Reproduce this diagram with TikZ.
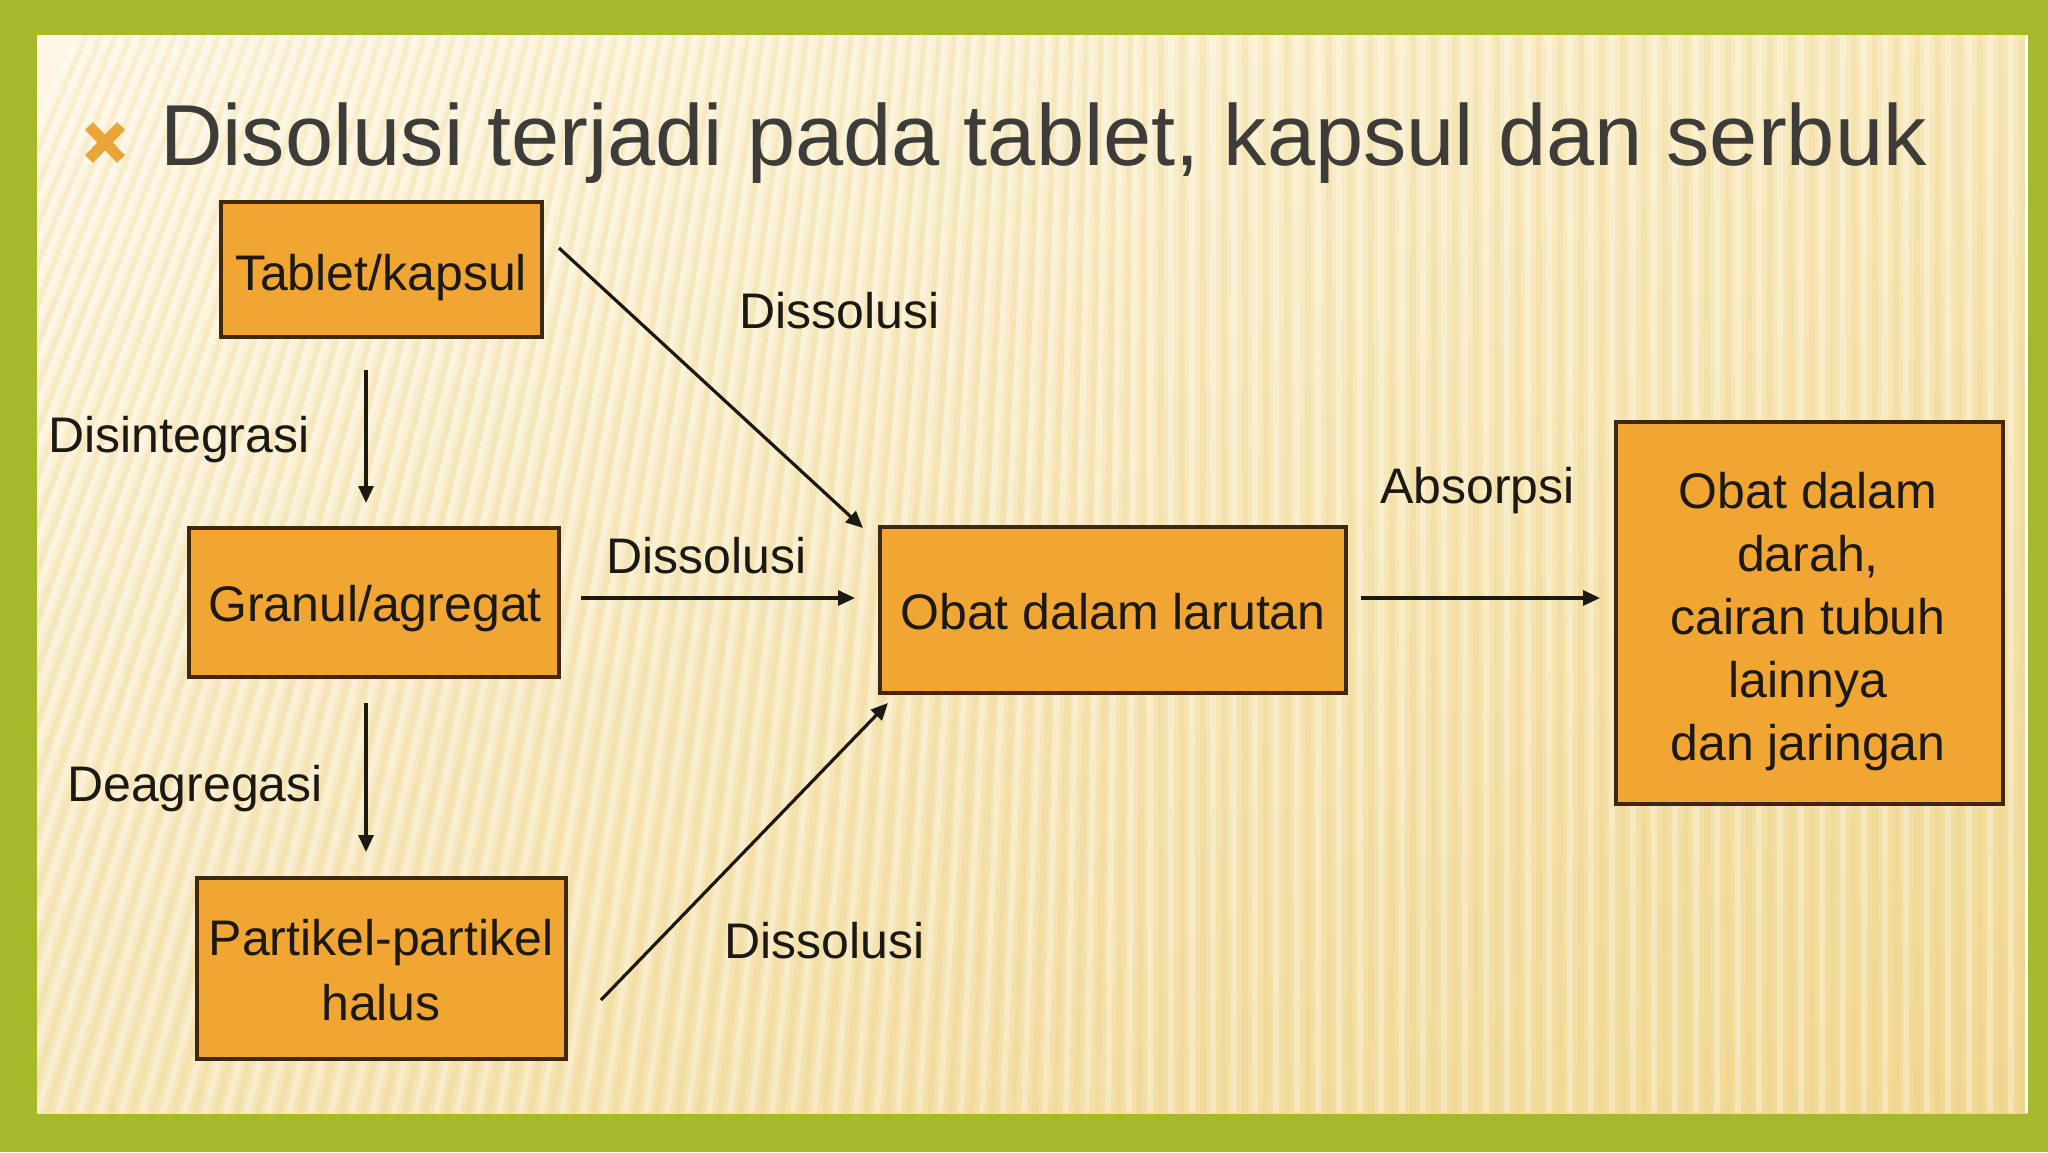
\documentclass[tikz,border=0pt]{standalone}
\usepackage{fontspec}
\setmainfont{Liberation Sans}
\usetikzlibrary{arrows.meta,calc}
\definecolor{slidegreen}{RGB}{166,185,42}
\definecolor{creamA}{RGB}{253,245,218}
\definecolor{creamB}{RGB}{245,224,160}
\definecolor{goldS}{RGB}{232,200,118}
\definecolor{boxfill}{RGB}{241,166,52}
\definecolor{boxline}{RGB}{62,40,18}
\definecolor{ink}{RGB}{28,24,18}
\definecolor{titleink}{RGB}{62,60,56}
\definecolor{bulletc}{RGB}{234,165,55}
\begin{document}
\begin{tikzpicture}[x=1pt,y=-1pt,
  box/.style={draw=boxline, fill=boxfill, line width=3.5pt, inner sep=0pt, outer sep=0pt},
  boxtext/.style={font=\fontsize{50}{64}\selectfont, text=ink, inner sep=0pt, align=center, anchor=base},
  lab/.style={font=\fontsize{50}{60}\selectfont, text=ink, inner sep=0pt, anchor=base west},
  arr/.style={draw=ink, line width=3.2pt, -{Triangle[length=17pt,width=15pt]}}
]
\useasboundingbox (0,0) rectangle (2048,1152);
% frame and panel
\fill[slidegreen] (0,0) rectangle (2048,1152);
\shade[left color=creamA, right color=creamB] (37,35) rectangle (2027,1113);
\shade[top color=white, bottom color=goldS, opacity=0.3] (37,35) rectangle (2027,1113);
\begin{scope}
  \clip (37,35) rectangle (2027,1113);
  \foreach \i in {-20,...,96} {
    \pgfmathsetmacro{\xb}{37+\i*21}
    \pgfmathsetmacro{\k}{max(0,1150-\xb)*0.3}
    \draw[white, opacity=0.3, line width=6pt] (\xb+\k,35) -- (\xb,1113);
    \draw[goldS, opacity=0.18, line width=6pt] (\xb+\k+10.5,35) -- (\xb+10.5,1113);
  }
\end{scope}
\draw[white, line width=3pt] (2026,35) -- (2026,1113);

% title
\draw[bulletc, line width=11pt] (89,126) -- (121,159) (121,126) -- (89,159);
\node[anchor=base west, inner sep=0pt, text=titleink, font=\fontsize{86.6}{100}\selectfont] (title) at (160,165) {Disolusi terjadi pada tablet, kapsul dan serbuk};

% boxes
\node[box, minimum width=321pt, minimum height=135pt] (tab) at (381.5,269.5) {};
\node[box, minimum width=370pt, minimum height=149pt] (gran) at (374,602.5) {};
\node[box, minimum width=369pt, minimum height=181pt] (part) at (381.5,968.5) {};
\node[box, minimum width=466pt, minimum height=166pt] (obat) at (1113,610) {};
\node[box, minimum width=387pt, minimum height=382pt] (blood) at (1809.5,613) {};

\node[boxtext] (tabt) at (381,290) {Tablet/kapsul};
\node[boxtext] (grant) at (375,621) {Granul/agregat};
\node[boxtext, font=\fontsize{50}{65}\selectfont] (partt) at (381,1020) {Partikel-partikel\\halus};
\node[boxtext] (obatt) at (1113,629) {Obat dalam larutan};
\node[boxtext, font=\fontsize{50}{63}\selectfont] (bloodt) at (1808,760) {Obat dalam\\darah,\\cairan tubuh\\lainnya\\dan jaringan};

% labels
\node[lab] (d1) at (739,328) {Dissolusi};
\node[lab] (dis) at (48,452) {Disintegrasi};
\node[lab] (d2) at (606,573) {Dissolusi};
\node[lab] (abs) at (1380,503) {Absorpsi};
\node[lab] (dea) at (67,801) {Deagregasi};
\node[lab] (d3) at (724,958) {Dissolusi};

% arrows
\draw[arr] ($(tab.north east)+(17,46)$) -- ($(obat.north west)+(-17,1)$);
\draw[arr] ($(tab.south)+(-15.5,33)$) -- ($(gran.north)+(-8,-25)$);
\draw[arr] ($(gran.south)+(-8,26)$) -- ($(part.north)+(-15.5,-26)$);
\draw[arr] ($(gran.east)+(22,-4.5)$) -- ($(obat.west)+(-25,-12)$);
\draw[arr] ($(part.east)+(35,31.5)$) -- ($(obat.south west)+(8,10)$);
\draw[arr] ($(obat.east)+(15,-12)$) -- ($(blood.west)+(-16,-15)$);
\end{tikzpicture}
\end{document}
